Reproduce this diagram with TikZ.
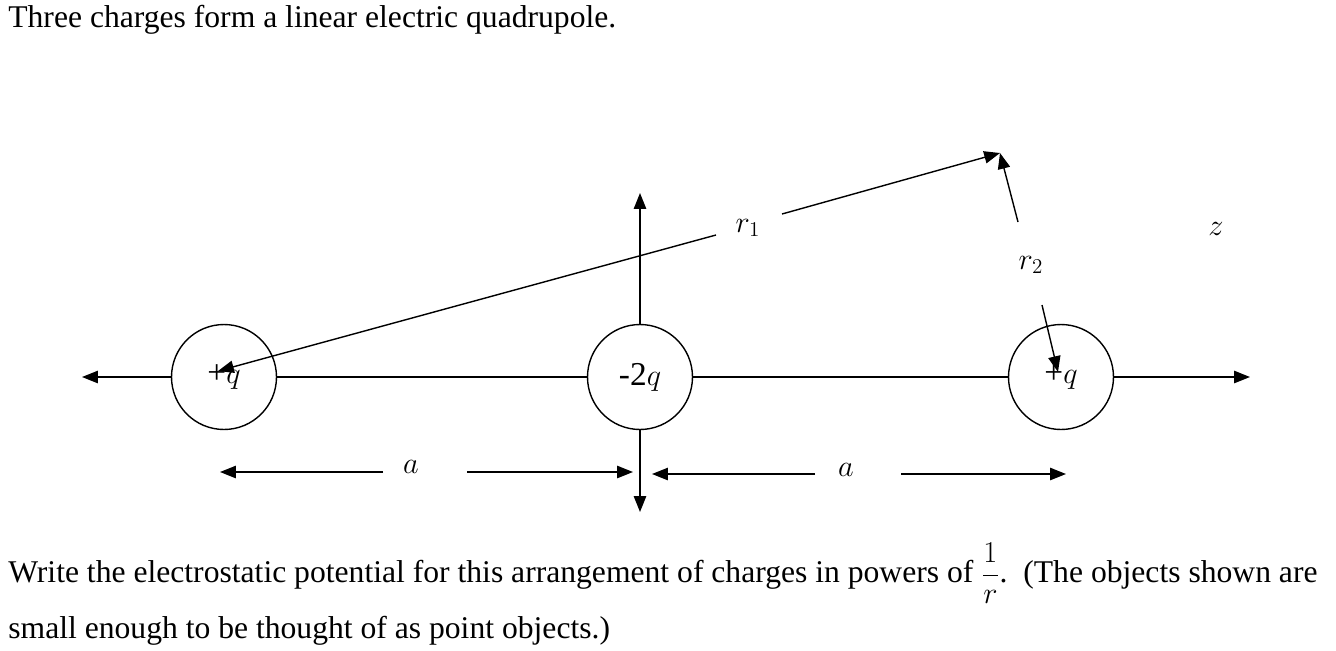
\documentclass[tikz,border=0pt]{standalone}
\usepackage{fontspec}
\setmainfont{Liberation Serif}
\usetikzlibrary{arrows.meta}
\begin{document}
\begin{tikzpicture}[x=0.02cm,y=-0.02cm,
  ln/.style={line width=0.8pt,-{Triangle[length=9pt,width=7pt]}},
  chg/.style={draw,circle,line width=0.8pt,minimum size=2.1cm,inner sep=0pt,font=\fontsize{19}{22}\selectfont},
  txt/.style={anchor=west,inner sep=0pt,font=\fontsize{18}{22}\selectfont},
  lab/.style={inner sep=1pt,font=\fontsize{18}{22}\selectfont}]
\useasboundingbox (0,0) rectangle (1336,650);
\node[txt] (t1) at (8,20) {Three charges form a linear electric quadrupole.};
\node[chg] (c1) at (224,377) {+$q$};
\node[chg] (c2) at (640,377) {-2$q$};
\node[chg] (c3) at (1061,377) {+$q$};
\coordinate (L) at (82,377); \coordinate (R) at (1250,377);
\coordinate (U) at (640,193); \coordinate (D) at (640,512);
\draw[ln] (c1) -- (L);
\draw[line width=0.8pt] (c1) -- (c2) (c2) -- (c3);
\draw[ln] (c3) -- (R);
\draw[ln] (c2) -- (U);
\draw[ln] (c2) -- (D);
\node[lab] (r1) at (748,228) {$r_1$};
\node[lab] (r2) at (1031,265) {$r_2$};
\node[lab] (z) at (1216,229) {$z$};
\coordinate (P) at (1000,153);
\coordinate (q1) at (218,371);
\coordinate (q3) at (1058,372);
\draw[ln] (716,235) coordinate (a1) -- (q1);
\draw[ln] (782,214) coordinate (a2) -- (P);
\draw[ln] (1018,222) coordinate (b1) -- (P);
\draw[ln] (1042,305) coordinate (b2) -- (q3);
\node[lab] (a1l) at (411,467) {$a$};
\node[lab] (a2l) at (846,470) {$a$};
\draw[ln] (383,472) -- (220,472);
\draw[ln] (467,472) -- (633,472);
\draw[ln] (815,474) -- (652,474);
\draw[ln] (901,474) -- (1066,474);
\node[txt] (t2) at (8,573) {Write the electrostatic potential for this arrangement of charges in powers of $\displaystyle\frac{1}{r}$.\ \ (The objects shown are};
\node[txt] (t3) at (8,631) {small enough to be thought of as point objects.)};
\end{tikzpicture}
\end{document}
